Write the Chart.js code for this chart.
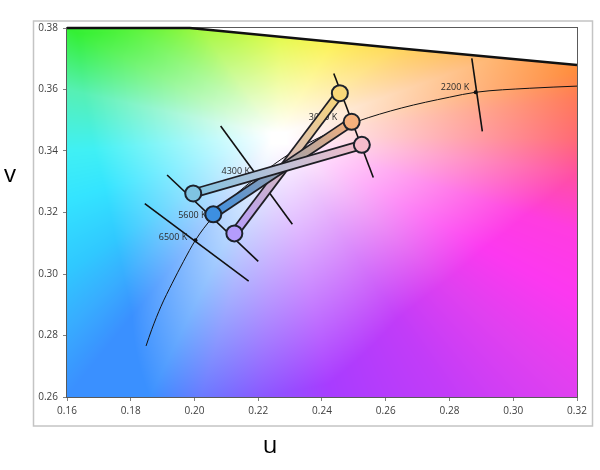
<!DOCTYPE html>
<html>
<head>
<meta charset="utf-8">
<script src="https://cdn.jsdelivr.net/npm/chart.js@4.4.1/dist/chart.umd.min.js"></script>
<style>
  html, body { margin: 0; background: #fff; }
</style>
</head>
<body>
<canvas id="c" width="600" height="470"></canvas>
<script>
const xTicks = [0.16, 0.18, 0.20, 0.22, 0.24, 0.26, 0.28, 0.30, 0.32];
const yTicks = [0.26, 0.28, 0.30, 0.32, 0.34, 0.36, 0.38];

// edge of the spectrum (white above it)
const spectrumU = [0.16, 0.1985, 0.2026, 0.2623, 0.32];
const spectrumV = [0.38, 0.38, 0.3796, 0.3736, 0.3680];

// planckian locus
const planckU = [0.1848, 0.1866, 0.1895, 0.1930, 0.1965, 0.2003, 0.2055, 0.2120, 0.2196, 0.2300, 0.2420, 0.2510, 0.2650, 0.2800, 0.2882, 0.3050, 0.3200];
const planckV = [0.2766, 0.2820, 0.2895, 0.2970, 0.3040, 0.3110, 0.3182, 0.3250, 0.3315, 0.3392, 0.3458, 0.3496, 0.3540, 0.3575, 0.3591, 0.3604, 0.3611];

// CCT marks: point on the locus, isotherm ends, label anchor
const cctNames = ['2200 K', '3000 K', '4300 K', '5600 K', '6500 K'];
const cctU = [0.2882, 0.2493, 0.2196, 0.2055, 0.2003];
const cctV = [0.3591, 0.3495, 0.3315, 0.3182, 0.3110];
const isoU1 = [0.2870, 0.2437, 0.2082, 0.1914, 0.1844];
const isoV1 = [0.3701, 0.3652, 0.3481, 0.3322, 0.3229];
const isoU2 = [0.2903, 0.2561, 0.2307, 0.2200, 0.2170];
const isoV2 = [0.3464, 0.3314, 0.3162, 0.3041, 0.2977];
const labelU = [0.2862, 0.2448, 0.2174, 0.2038, 0.1977];
const labelV = [0.3607, 0.3510, 0.3333, 0.3192, 0.3118];

// the three shifts, bottom to top
const fromU = [0.2125, 0.2059, 0.1996];
const fromV = [0.3132, 0.3194, 0.3262];
const toU = [0.2456, 0.2493, 0.2525];
const toV = [0.3588, 0.3495, 0.3420];
const fromColor = ['#b49cfc', '#3d8fe0', '#7fc4e2'];
const toColor = ['#f9d878', '#f5b07c', '#f6bccb'];

// colour field behind the plot: edge colour and how far out it is reached
const bgCenter = [0.226, 0.345];
const bgStops = [
  [0.160, 0.380, '#34f034', 0.95], [0.180, 0.380, '#5cf440', 0.97], [0.202, 0.380, '#a6f844', 0.97],
  [0.227, 0.380, '#e2fa44', 0.97], [0.246, 0.380, '#fcf040', 0.97], [0.271, 0.380, '#ffd23c', 0.97],
  [0.296, 0.380, '#ffb038', 0.98], [0.320, 0.380, '#ff9838', 1.0],
  [0.320, 0.366, '#ff8c3c', 1.0], [0.320, 0.357, '#ff7a58', 1.0], [0.320, 0.344, '#ff6a74', 1.0],
  [0.320, 0.333, '#ff50a0', 1.0], [0.320, 0.314, '#ff3ce0', 0.83], [0.320, 0.292, '#fc38f0', 0.69],
  [0.320, 0.260, '#e040f0', 0.56],
  [0.280, 0.260, '#c23cf8', 0.70], [0.243, 0.260, '#a83cff', 0.95], [0.221, 0.260, '#8a58ff', 1.0],
  [0.202, 0.260, '#6a7aff', 1.0], [0.186, 0.260, '#3a90ff', 1.0], [0.160, 0.260, '#3a90ff', 0.69],
  [0.160, 0.282, '#38acff', 0.73], [0.160, 0.301, '#30c8ff', 0.77], [0.160, 0.324, '#34e4ff', 0.82],
  [0.160, 0.340, '#40f0f4', 0.87], [0.160, 0.360, '#56f0b4', 0.92]
];

const pts = (us, vs) => us.map((u, i) => ({ x: u, y: vs[i] }));

function hexRgb(h) {
  const n = parseInt(h.slice(1), 16);
  return [(n >> 16) & 255, (n >> 8) & 255, n & 255];
}

function paintBackground(chart) {
  const a = chart.chartArea, xs = chart.scales.x, ys = chart.scales.y;
  const w = Math.round(a.right - a.left), h = Math.round(a.bottom - a.top);
  const cx = xs.getPixelForValue(bgCenter[0]) - a.left;
  const cy = ys.getPixelForValue(bgCenter[1]) - a.top;
  let stops = bgStops.map(s => {
    const px = xs.getPixelForValue(s[0]) - a.left, py = ys.getPixelForValue(s[1]) - a.top;
    return { a: Math.atan2(py - cy, px - cx), c: hexRgb(s[2]), full: s[3] };
  }).sort((p, q) => p.a - q.a);
  const first = stops[0], last = stops[stops.length - 1];
  stops = [{ a: last.a - 2 * Math.PI, c: last.c, full: last.full }, ...stops,
           { a: first.a + 2 * Math.PI, c: first.c, full: first.full }];

  const off = document.createElement('canvas');
  off.width = w; off.height = h;
  const octx = off.getContext('2d');
  const img = octx.createImageData(w, h);
  const d = img.data;
  for (let y = 0; y < h; y++) {
    for (let x = 0; x < w; x++) {
      const dx = x + 0.5 - cx, dy = y + 0.5 - cy;
      const ang = Math.atan2(dy, dx);
      let t = Infinity;
      if (dx > 0) t = Math.min(t, (w - cx) / dx);
      if (dx < 0) t = Math.min(t, -cx / dx);
      if (dy > 0) t = Math.min(t, (h - cy) / dy);
      if (dy < 0) t = Math.min(t, -cy / dy);
      const s = t === Infinity ? 0 : 1 / t;
      let i = 0;
      while (i < stops.length - 2 && stops[i + 1].a < ang) i++;
      const s0 = stops[i], s1 = stops[i + 1];
      const f = (ang - s0.a) / (s1.a - s0.a || 1);
      const full = s0.full + (s1.full - s0.full) * f;
      const g = Math.max(0, Math.min(1, (s - 0.03) / (full - 0.03)));
      const k = (y * w + x) * 4;
      for (let ch = 0; ch < 3; ch++) {
        const edge = s0.c[ch] + (s1.c[ch] - s0.c[ch]) * f;
        d[k + ch] = 255 + (edge - 255) * g;
      }
      d[k + 3] = 255;
    }
  }
  octx.putImageData(img, 0, 0);
  return off;
}

const diagramPlugin = {
  id: 'diagram',
  beforeDraw(chart) {
    const ctx = chart.ctx;
    ctx.save();
    ctx.strokeStyle = '#c4c4c4';
    ctx.lineWidth = 1.5;
    ctx.strokeRect(33.5, 21, 559, 405);
    ctx.restore();
  },
  beforeDatasetsDraw(chart) {
    const a = chart.chartArea, ctx = chart.ctx;
    if (!chart.$bg) chart.$bg = paintBackground(chart);
    ctx.drawImage(chart.$bg, a.left, a.top, a.right - a.left, a.bottom - a.top);
    ctx.save();
    ctx.strokeStyle = '#5a5a5a';
    ctx.lineWidth = 1;
    ctx.strokeRect(a.left - 0.5, a.top - 0.5, a.right - a.left + 1, a.bottom - a.top + 1);
    ctx.restore();
  },
  afterDatasetDraw(chart, args) {
    if (!chart.data.datasets[args.index].cctLabels) return;
    const ctx = chart.ctx, xs = chart.scales.x, ys = chart.scales.y;
    ctx.save();
    ctx.font = '9px "Open Sans", sans-serif';
    ctx.fillStyle = '#2a2a2a';
    ctx.textAlign = 'right';
    ctx.textBaseline = 'middle';
    cctNames.forEach((name, i) => {
      ctx.fillText(name, xs.getPixelForValue(labelU[i]), ys.getPixelForValue(labelV[i]));
    });
    ctx.restore();
  },
  afterDraw(chart) {
    const ctx = chart.ctx;
    ctx.save();
    ctx.fillStyle = '#000';
    ctx.font = '24px "Open Sans", sans-serif';
    ctx.textAlign = 'center';
    ctx.textBaseline = 'middle';
    ctx.fillText('v', 10, 175);
    ctx.fillText('u', 270, 446);
    ctx.restore();
  }
};

const layers = [];
layers.push({
  data: pts(spectrumU, spectrumV),
  borderColor: '#111', borderWidth: 2.5, fill: 'end', backgroundColor: '#ffffff',
  pointRadius: 0, clip: 3
});
layers.push({
  data: pts(planckU, planckV),
  borderColor: '#111', borderWidth: 1, cubicInterpolationMode: 'monotone', pointRadius: 0
});
cctNames.forEach((n, i) => {
  layers.push({
    data: [{ x: isoU1[i], y: isoV1[i] }, { x: isoU2[i], y: isoV2[i] }],
    borderColor: '#111', borderWidth: 1.6, pointRadius: 0
  });
});
layers.push({
  data: pts(cctU, cctV), showLine: false,
  pointRadius: 2, pointBackgroundColor: '#111', pointBorderWidth: 0, cctLabels: true
});
fromU.forEach((u, i) => {
  const seg = [{ x: fromU[i], y: fromV[i] }, { x: toU[i], y: toV[i] }];
  layers.push({ data: seg, borderColor: '#1e1e24', borderWidth: 10, pointRadius: 0 });
  layers.push({
    data: seg, borderWidth: 6.5, pointRadius: 0,
    borderColor: c => {
      const ch = c.chart;
      if (!ch.chartArea) return fromColor[i];
      const xs = ch.scales.x, ys = ch.scales.y;
      const g = ch.ctx.createLinearGradient(
        xs.getPixelForValue(fromU[i]), ys.getPixelForValue(fromV[i]),
        xs.getPixelForValue(toU[i]), ys.getPixelForValue(toV[i]));
      g.addColorStop(0, fromColor[i]);
      g.addColorStop(1, toColor[i]);
      return g;
    }
  });
});
layers.push({
  data: pts(fromU.concat(toU), fromV.concat(toV)), showLine: false,
  pointRadius: 8, pointBorderWidth: 2, pointBorderColor: '#1c222c',
  pointBackgroundColor: fromColor.concat(toColor)
});
layers.forEach((ds, i) => { ds.order = layers.length - i; });

Chart.defaults.font.family = '"Open Sans", sans-serif';

new Chart(document.getElementById('c'), {
  type: 'line',
  data: { datasets: layers },
  options: {
    responsive: false,
    animation: false,
    events: [],
    layout: { padding: { left: 34, right: 23, top: 28, bottom: 43 } },
    plugins: { legend: { display: false }, tooltip: { enabled: false } },
    scales: {
      x: {
        type: 'linear', min: 0.16, max: 0.32,
        afterBuildTicks: s => { s.ticks = xTicks.map(v => ({ value: v })); },
        afterFit: s => { s.height = 30; },
        ticks: { callback: v => v.toFixed(2), color: '#404040', font: { size: 10 }, padding: 4, maxRotation: 0, autoSkip: false },
        grid: { drawOnChartArea: false, tickLength: 4, tickColor: '#808080' },
        border: { display: false }
      },
      y: {
        type: 'linear', min: 0.26, max: 0.38,
        afterBuildTicks: s => { s.ticks = yTicks.map(v => ({ value: v })); },
        afterFit: s => { s.width = 33; },
        ticks: { callback: v => v.toFixed(2), color: '#404040', font: { size: 10 }, padding: 5, autoSkip: false },
        grid: { drawOnChartArea: false, tickLength: 4, tickColor: '#808080' },
        border: { display: false }
      }
    }
  },
  plugins: [diagramPlugin]
});
</script>
</body>
</html>
